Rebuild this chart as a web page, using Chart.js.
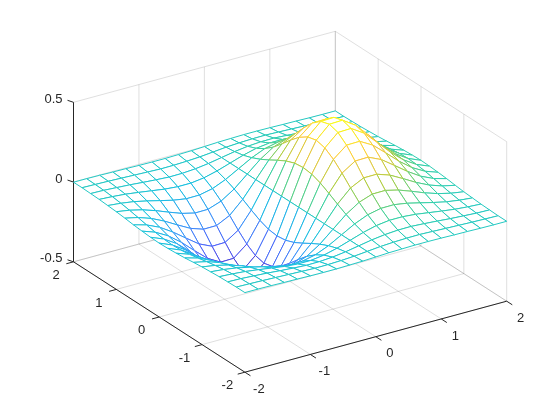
<!DOCTYPE html>
<html>
<head>
<meta charset="utf-8">
<style>
  html, body { margin: 0; padding: 0; background: #fff; }
  canvas { display: block; }
</style>
<script src="https://cdn.jsdelivr.net/npm/chart.js@4"></script>
</head>
<body>
<canvas id="myChart" width="560" height="420"></canvas>
<script>
const meshX = [-2,-1.8,-1.6,-1.4,-1.2,-1,-0.8,-0.6,-0.4,-0.2,0,0.2,0.4,0.6,0.8,1,1.2,1.4,1.6,1.8,2];
const meshY = [-2,-1.8,-1.6,-1.4,-1.2,-1,-0.8,-0.6,-0.4,-0.2,0,0.2,0.4,0.6,0.8,1,1.2,1.4,1.6,1.8,2];
// one row per x value, columns follow meshY
const meshZ = [
  [-.001,-.001,-.003,-.005,-.009,-.013,-.019,-.026,-.031,-.035,-.037,-.035,-.031,-.026,-.019,-.013,-.009,-.005,-.003,-.001,-.001],
  [-.001,-.003,-.005,-.010,-.017,-.026,-.037,-.049,-.060,-.068,-.071,-.068,-.060,-.049,-.037,-.026,-.017,-.010,-.005,-.003,-.001],
  [-.002,-.005,-.010,-.017,-.029,-.046,-.065,-.086,-.105,-.119,-.124,-.119,-.105,-.086,-.065,-.046,-.029,-.017,-.010,-.005,-.002],
  [-.004,-.008,-.015,-.028,-.047,-.073,-.104,-.138,-.168,-.190,-.197,-.190,-.168,-.138,-.104,-.073,-.047,-.028,-.015,-.008,-.004],
  [-.005,-.011,-.022,-.040,-.067,-.105,-.150,-.198,-.242,-.273,-.284,-.273,-.242,-.198,-.150,-.105,-.067,-.040,-.022,-.011,-.005],
  [-.007,-.014,-.028,-.052,-.087,-.135,-.194,-.257,-.313,-.353,-.368,-.353,-.313,-.257,-.194,-.135,-.087,-.052,-.028,-.014,-.007],
  [-.008,-.017,-.033,-.059,-.100,-.155,-.222,-.294,-.359,-.405,-.422,-.405,-.359,-.294,-.222,-.155,-.100,-.059,-.033,-.017,-.008],
  [-.008,-.016,-.032,-.059,-.099,-.154,-.221,-.292,-.357,-.402,-.419,-.402,-.357,-.292,-.221,-.154,-.099,-.059,-.032,-.016,-.008],
  [-.006,-.013,-.026,-.048,-.081,-.125,-.180,-.238,-.290,-.327,-.341,-.327,-.290,-.238,-.180,-.125,-.081,-.048,-.026,-.013,-.006],
  [-.004,-.008,-.015,-.027,-.046,-.071,-.101,-.134,-.164,-.185,-.192,-.185,-.164,-.134,-.101,-.071,-.046,-.027,-.015,-.008,-.004],
  [0,0,0,0,0,0,0,0,0,0,0,0,0,0,0,0,0,0,0,0,0],
  [.004,.008,.015,.027,.046,.071,.101,.134,.164,.185,.192,.185,.164,.134,.101,.071,.046,.027,.015,.008,.004],
  [.006,.013,.026,.048,.081,.125,.180,.238,.290,.327,.341,.327,.290,.238,.180,.125,.081,.048,.026,.013,.006],
  [.008,.016,.032,.059,.099,.154,.221,.292,.357,.402,.419,.402,.357,.292,.221,.154,.099,.059,.032,.016,.008],
  [.008,.017,.033,.059,.100,.155,.222,.294,.359,.405,.422,.405,.359,.294,.222,.155,.100,.059,.033,.017,.008],
  [.007,.014,.028,.052,.087,.135,.194,.257,.313,.353,.368,.353,.313,.257,.194,.135,.087,.052,.028,.014,.007],
  [.005,.011,.022,.040,.067,.105,.150,.198,.242,.273,.284,.273,.242,.198,.150,.105,.067,.040,.022,.011,.005],
  [.004,.008,.015,.028,.047,.073,.104,.138,.168,.190,.197,.190,.168,.138,.104,.073,.047,.028,.015,.008,.004],
  [.002,.005,.010,.017,.029,.046,.065,.086,.105,.119,.124,.119,.105,.086,.065,.046,.029,.017,.010,.005,.002],
  [.001,.003,.005,.010,.017,.026,.037,.049,.060,.068,.071,.068,.060,.049,.037,.026,.017,.010,.005,.003,.001],
  [.001,.001,.003,.005,.009,.013,.019,.026,.031,.035,.037,.035,.031,.026,.019,.013,.009,.005,.003,.001,.001]
];
const xTicks = [-2,-1,0,1,2];
const yTicks = [-2,-1,0,1,2];
const zTicks = [-0.5,0,0.5];
const xTickLabels = ["-2","-1","0","1","2"];
const yTickLabels = ["-2","-1","0","1","2"];
const zTickLabels = ["-0.5","0","0.5"];

// parula colormap stops, nudged brighter to match the reference
const parula = [[72,50,190],[80,92,248],[56,145,250],[22,192,224],[50,208,165],[171,205,62],[254,198,60],[249,251,21]];
const gridColor = 'rgba(38,38,38,0.15)';
const axisColor = '#262626';
const zMin = -0.422, zMax = 0.422;

// flat view of the 3d box onto the page
function project(x, y, z) {
  return {
    x: 290.1 + 65.45 * x - 42.85 * y,
    y: 201.75 - 17.75 * x - 27.6 * y - 159.5 * z
  };
}

function colorOf(z) {
  let t = (z - zMin) / (zMax - zMin) * (parula.length - 1);
  t = Math.max(0, Math.min(parula.length - 1.001, t));
  let i = Math.floor(t), f = t - i;
  let a = parula[i], b = parula[i + 1];
  return 'rgb(' + [0,1,2].map(k => Math.round(a[k] + (b[k] - a[k]) * f)).join(',') + ')';
}

function lineDataset(p1, p2, color) {
  return { data: [project(...p1), project(...p2)], borderColor: color, borderWidth: 1, pointRadius: 0, showLine: true, fill: false, clip: false };
}

// frame first, so the surface paints over it
let frame = [];
const xLo = xTicks[0], xHi = xTicks[xTicks.length - 1];
const yLo = yTicks[0], yHi = yTicks[yTicks.length - 1];
const zLo = zTicks[0], zHi = zTicks[zTicks.length - 1];
xTicks.forEach(x => {
  frame.push(lineDataset([x, yLo, zLo], [x, yHi, zLo], gridColor));
  frame.push(lineDataset([x, yHi, zLo], [x, yHi, zHi], gridColor));
});
yTicks.forEach(y => {
  frame.push(lineDataset([xLo, y, zLo], [xHi, y, zLo], gridColor));
  frame.push(lineDataset([xHi, y, zLo], [xHi, y, zHi], gridColor));
});
zTicks.forEach(z => {
  frame.push(lineDataset([xLo, yHi, z], [xHi, yHi, z], gridColor));
  frame.push(lineDataset([xHi, yHi, z], [xHi, yLo, z], gridColor));
});
frame.push(lineDataset([xLo, yHi, zLo], [xLo, yHi, zHi], axisColor));
frame.push(lineDataset([xLo, yHi, zLo], [xLo, yLo, zLo], axisColor));
frame.push(lineDataset([xLo, yLo, zLo], [xHi, yLo, zLo], axisColor));
xTicks.forEach(x => frame.push(lineDataset([x, yLo, zLo], [x, yLo - 0.13, zLo], axisColor)));
yTicks.forEach(y => frame.push(lineDataset([xLo, y, zLo], [xLo - 0.11, y, zLo], axisColor)));
zTicks.forEach(z => {
  let a = project(xLo, yHi, z);
  frame.push({ data: [a, { x: a.x - 6, y: a.y - 2 }], borderColor: axisColor, borderWidth: 1, pointRadius: 0, showLine: true, clip: false });
});

// surface quads, far corner first: white face, then coloured edges
let surface = [];
for (let i = meshX.length - 2; i >= 0; i--) {
  for (let j = meshY.length - 2; j >= 0; j--) {
    let corners = [[i, j], [i, j + 1], [i + 1, j + 1], [i + 1, j], [i, j]];
    let pts = corners.map(c => project(meshX[c[0]], meshY[c[1]], meshZ[c[0]][c[1]]));
    let zs = corners.map(c => meshZ[c[0]][c[1]]);
    surface.push({ data: pts, showLine: true, pointRadius: 0, borderWidth: 0, borderColor: 'rgba(0,0,0,0)', backgroundColor: '#fff', fill: 'shape', clip: false });
    surface.push({
      data: pts, showLine: true, pointRadius: 0, borderWidth: 1, fill: false, clip: false,
      borderColor: colorOf(zs[0]),
      segment: { borderColor: ctx => colorOf((zs[ctx.p0DataIndex] + zs[ctx.p1DataIndex]) / 2) }
    });
  }
}

// chart.js paints the first dataset last
const datasets = frame.concat(surface).reverse();

const tickText = {
  id: 'tickText',
  afterDraw(chart) {
    const ctx = chart.ctx;
    const sx = chart.scales.x, sy = chart.scales.y;
    ctx.save();
    ctx.font = '13px "Liberation Sans", Arial, sans-serif';
    ctx.fillStyle = axisColor;
    ctx.textBaseline = 'middle';
    ctx.textAlign = 'center';
    xTicks.forEach((x, n) => {
      let p = project(x, yLo, zLo);
      ctx.fillText(xTickLabels[n], sx.getPixelForValue(p.x + 14), sy.getPixelForValue(p.y + 17));
    });
    yTicks.forEach((y, n) => {
      let p = project(xLo, y, zLo);
      ctx.fillText(yTickLabels[n], sx.getPixelForValue(p.x - 17.5), sy.getPixelForValue(p.y + 13.7));
    });
    ctx.textAlign = 'right';
    zTicks.forEach((z, n) => {
      let p = project(xLo, yHi, z);
      ctx.fillText(zTickLabels[n], sx.getPixelForValue(p.x - 11), sy.getPixelForValue(p.y - 3));
    });
    ctx.restore();
  }
};

const myChart = new Chart(document.getElementById('myChart'), {
  type: 'scatter',
  data: { datasets: datasets },
  options: {
    responsive: false,
    animation: false,
    events: [],
    layout: { padding: 0 },
    elements: { line: { tension: 0 } },
    plugins: { legend: { display: false }, tooltip: { enabled: false } },
    scales: {
      x: { type: 'linear', display: false, min: 0, max: 560 },
      y: { type: 'linear', display: false, min: 0, max: 420, reverse: true }
    }
  },
  plugins: [tickText]
});
</script>
</body>
</html>
